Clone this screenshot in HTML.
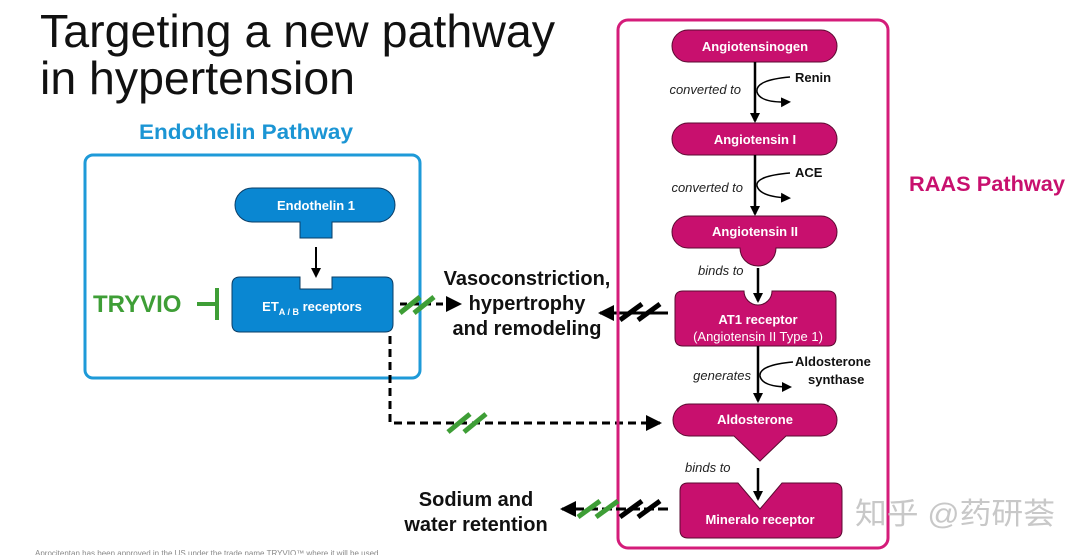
<!DOCTYPE html>
<html><head><meta charset="utf-8"><style>
html,body{margin:0;padding:0;background:#fff}
svg{display:block}
text{font-family:"Liberation Sans","Noto Sans CJK SC",sans-serif}
</style></head><body>
<svg width="1080" height="555" viewBox="0 0 1080 555" xmlns="http://www.w3.org/2000/svg">
<defs>
<marker id="ah" markerWidth="10" markerHeight="10" refX="8" refY="5" orient="auto" markerUnits="userSpaceOnUse"><path d="M0,0 L10,5 L0,10 z" fill="#000"/></marker>
<marker id="ahs" markerWidth="10" markerHeight="10" refX="8" refY="5" orient="auto" markerUnits="userSpaceOnUse"><path d="M0,0 L10,5 L0,10 z" fill="#000"/></marker>
<marker id="ahb" markerWidth="18" markerHeight="18" refX="14" refY="8" orient="auto" markerUnits="userSpaceOnUse"><path d="M0,0 L16,8 L0,16 z" fill="#000"/></marker>
</defs>
<!-- Title -->
<text x="40" y="47" font-size="46" fill="#111" textLength="515" lengthAdjust="spacingAndGlyphs">Targeting a new pathway</text>
<text x="40" y="94" font-size="46" fill="#111" textLength="315" lengthAdjust="spacingAndGlyphs">in hypertension</text>
<text x="139" y="139" font-size="21" font-weight="bold" fill="#1b95d4" textLength="214" lengthAdjust="spacingAndGlyphs">Endothelin Pathway</text>
<!-- Blue box -->
<rect x="85" y="155" width="335" height="223" rx="8" fill="none" stroke="#1e9ad8" stroke-width="3"/>
<!-- Endothelin 1 -->
<path d="M252,188 H378 A17,17 0 0 1 378,222 H332 V238 H300 V222 H252 A17,17 0 0 1 252,188 Z" fill="#0a87d2" stroke="#0a3d66" stroke-width="1"/>
<text x="316" y="210" font-size="13" font-weight="bold" fill="#fff" text-anchor="middle">Endothelin 1</text>
<line x1="316" y1="247" x2="316" y2="276" stroke="#000" stroke-width="2" marker-end="url(#ah)"/>
<!-- ET receptors -->
<path d="M240,277 H300 V289 H332 V277 H385 Q393,277 393,285 V324 Q393,332 385,332 H240 Q232,332 232,324 V285 Q232,277 240,277 Z" fill="#0a87d2" stroke="#0a3d66" stroke-width="1"/>
<text x="312" y="311" font-size="13" font-weight="bold" fill="#fff" text-anchor="middle">ET<tspan font-size="9" dy="4">A / B</tspan><tspan dy="-4"> receptors</tspan></text>
<!-- TRYVIO -->
<text x="93" y="312" font-size="24" font-weight="bold" fill="#3e9e36">TRYVIO</text>
<line x1="197" y1="304" x2="216" y2="304" stroke="#3e9e36" stroke-width="4"/>
<line x1="217" y1="288" x2="217" y2="320" stroke="#3e9e36" stroke-width="4"/>
<!-- dashed to vasoconstriction -->
<line x1="400" y1="304" x2="460" y2="304" stroke="#000" stroke-width="3" stroke-dasharray="7,5" marker-end="url(#ahb)"/>
<line x1="400" y1="313" x2="420" y2="297" stroke="#3e9e36" stroke-width="5"/>
<line x1="414" y1="313" x2="434" y2="297" stroke="#3e9e36" stroke-width="5"/>
<text x="527" y="285" font-size="20" font-weight="bold" fill="#111" text-anchor="middle">Vasoconstriction,</text>
<text x="527" y="310" font-size="20" font-weight="bold" fill="#111" text-anchor="middle">hypertrophy</text>
<text x="527" y="335" font-size="20" font-weight="bold" fill="#111" text-anchor="middle">and remodeling</text>
<!-- arrow from AT1 -->
<line x1="668" y1="313" x2="600" y2="313" stroke="#000" stroke-width="3" marker-end="url(#ahb)"/>
<line x1="620" y1="320" x2="642" y2="304" stroke="#000" stroke-width="5"/>
<line x1="638" y1="320" x2="660" y2="304" stroke="#000" stroke-width="5"/>
<!-- dashed to aldosterone -->
<polyline points="390,336 390,423 660,423" fill="none" stroke="#000" stroke-width="3" stroke-dasharray="8,5" marker-end="url(#ahb)"/>
<line x1="448" y1="432" x2="470" y2="414" stroke="#3e9e36" stroke-width="5"/>
<line x1="464" y1="432" x2="486" y2="414" stroke="#3e9e36" stroke-width="5"/>
<!-- Magenta box -->
<rect x="618" y="20" width="270" height="528" rx="10" fill="none" stroke="#d41c7a" stroke-width="3"/>
<text x="909" y="191" font-size="21" font-weight="bold" fill="#c8106e" textLength="156" lengthAdjust="spacingAndGlyphs">RAAS Pathway</text>
<!-- Angiotensinogen -->
<rect x="672" y="30" width="165" height="32" rx="16" fill="#c8106e" stroke="#5a0a30" stroke-width="1"/>
<text x="755" y="51" font-size="13" font-weight="bold" fill="#fff" text-anchor="middle">Angiotensinogen</text>
<line x1="755" y1="62" x2="755" y2="121" stroke="#000" stroke-width="2.5" marker-end="url(#ah)"/>
<path d="M790,77 Q755,80 757,92 Q760,103 789,102" fill="none" stroke="#000" stroke-width="1.5" marker-end="url(#ahs)"/>
<text x="795" y="82" font-size="13" font-weight="bold" fill="#111">Renin</text>
<text x="741" y="94" font-size="13" font-style="italic" fill="#222" text-anchor="end">converted to</text>
<!-- Angiotensin I -->
<rect x="672" y="123" width="165" height="32" rx="16" fill="#c8106e" stroke="#5a0a30" stroke-width="1"/>
<text x="755" y="144" font-size="13" font-weight="bold" fill="#fff" text-anchor="middle">Angiotensin I</text>
<line x1="755" y1="155" x2="755" y2="214" stroke="#000" stroke-width="2.5" marker-end="url(#ah)"/>
<path d="M790,173 Q755,176 757,186 Q760,197 789,198" fill="none" stroke="#000" stroke-width="1.5" marker-end="url(#ahs)"/>
<text x="795" y="177" font-size="13" font-weight="bold" fill="#111">ACE</text>
<text x="743" y="192" font-size="13" font-style="italic" fill="#222" text-anchor="end">converted to</text>
<!-- Angiotensin II -->
<path d="M688,216 H821 A16,16 0 0 1 821,248 H776 A18,18 0 0 1 740,248 H688 A16,16 0 0 1 688,216 Z" fill="#c8106e" stroke="#5a0a30" stroke-width="1"/>
<text x="755" y="236" font-size="13" font-weight="bold" fill="#fff" text-anchor="middle">Angiotensin II</text>
<text x="698" y="275" font-size="13" font-style="italic" fill="#222">binds to</text>
<line x1="758" y1="268" x2="758" y2="301" stroke="#000" stroke-width="2.5" marker-end="url(#ah)"/>
<!-- AT1 receptor -->
<path d="M683,291 H744 A14,14 0 0 0 772,291 H828 Q836,291 836,299 V338 Q836,346 828,346 H683 Q675,346 675,338 V299 Q675,291 683,291 Z" fill="#c8106e" stroke="#5a0a30" stroke-width="1"/>
<text x="758" y="324" font-size="13" font-weight="bold" fill="#fff" text-anchor="middle">AT1 receptor</text>
<text x="758" y="341" font-size="13" fill="#fff" text-anchor="middle">(Angiotensin II Type 1)</text>
<line x1="758" y1="346" x2="758" y2="401" stroke="#000" stroke-width="2.5" marker-end="url(#ah)"/>
<path d="M793,362 Q759,365 760,376 Q762,387 790,387" fill="none" stroke="#000" stroke-width="1.5" marker-end="url(#ahs)"/>
<text x="795" y="366" font-size="13" font-weight="bold" fill="#111">Aldosterone</text>
<text x="808" y="384" font-size="13" font-weight="bold" fill="#111">synthase</text>
<text x="751" y="380" font-size="13" font-style="italic" fill="#222" text-anchor="end">generates</text>
<!-- Aldosterone -->
<path d="M689,404 H821 A16,16 0 0 1 821,436 H786 L760,461 L734,436 H689 A16,16 0 0 1 689,404 Z" fill="#c8106e" stroke="#5a0a30" stroke-width="1"/>
<text x="755" y="424" font-size="13" font-weight="bold" fill="#fff" text-anchor="middle">Aldosterone</text>
<text x="685" y="472" font-size="13" font-style="italic" fill="#222">binds to</text>
<line x1="758" y1="468" x2="758" y2="499" stroke="#000" stroke-width="2.5" marker-end="url(#ah)"/>
<!-- Mineralo receptor -->
<path d="M688,483 H738 L760,509 L782,483 H834 Q842,483 842,491 V530 Q842,538 834,538 H688 Q680,538 680,530 V491 Q680,483 688,483 Z" fill="#c8106e" stroke="#5a0a30" stroke-width="1"/>
<text x="760" y="524" font-size="13" font-weight="bold" fill="#fff" text-anchor="middle">Mineralo receptor</text>
<!-- Sodium -->
<line x1="668" y1="509" x2="562" y2="509" stroke="#000" stroke-width="3" stroke-dasharray="10,4" marker-end="url(#ahb)"/>
<line x1="578" y1="517" x2="600" y2="501" stroke="#3e9e36" stroke-width="5"/>
<line x1="596" y1="517" x2="618" y2="501" stroke="#3e9e36" stroke-width="5"/>
<line x1="620" y1="517" x2="642" y2="501" stroke="#000" stroke-width="5"/>
<line x1="638" y1="517" x2="660" y2="501" stroke="#000" stroke-width="5"/>
<text x="476" y="506" font-size="20" font-weight="bold" fill="#111" text-anchor="middle">Sodium and</text>
<text x="476" y="531" font-size="20" font-weight="bold" fill="#111" text-anchor="middle">water retention</text>
<!-- watermark -->
<text x="855" y="524" font-size="30" fill="#c8c8c8" textLength="200" lengthAdjust="spacingAndGlyphs">知乎 @药研荟</text>
<!-- footnote -->
<text x="35" y="556" font-size="8" fill="#888">Aprocitentan has been approved in the US under the trade name TRYVIO™ where it will be used</text>
</svg>
</body></html>
